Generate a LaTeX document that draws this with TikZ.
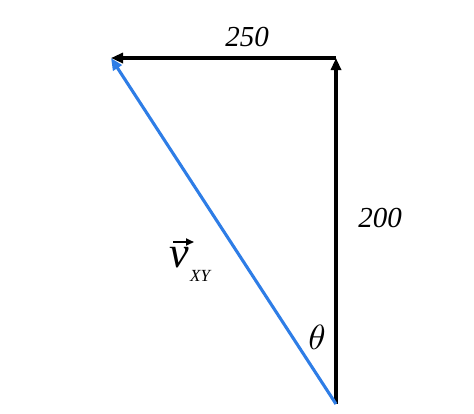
\documentclass[tikz,border=0pt]{standalone}
\usepackage{fontspec}
\newfontfamily\timesf{Liberation Serif}
\usetikzlibrary{arrows.meta}
\definecolor{vblue}{RGB}{46,125,230}
\tikzset{
  vec/.style={line width=3.1pt,-{Triangle[length=12pt,width=10pt]}},
  lbl/.style={font=\timesf\itshape\fontsize{29}{31}\selectfont, inner sep=0pt},
}
\begin{document}
\begin{tikzpicture}[x=1pt,y=-1pt]
\useasboundingbox (0,0) rectangle (474,413);
\coordinate (B) at (336,404);
\coordinate (TR) at (336,58);
\coordinate (TL) at (111,58);
\draw[vec,black] (B) -- (TR);
\draw[vec,black] (TR) -- (TL);
\draw[vec,vblue] (B) -- (TL);
\node[lbl] (l250) at (247,37) {250};
\node[lbl] (l200) at (380,218) {200};
\node[inner sep=0pt] (th) at (317,337) {\scalebox{3.5}{$\theta$}};
\node[inner sep=0pt,anchor=base west,font=\timesf\itshape\fontsize{44}{46}\selectfont] (v) at (169,267) {v};
\node[inner sep=0pt,anchor=base west,font=\timesf\itshape\fontsize{17}{19}\selectfont] (xy) at (190,281) {XY};
\coordinate (a1) at (173,242);
\coordinate (a2) at (194,242);
\draw[line width=1.8pt,-{Triangle[length=8pt,width=7pt]}] (a1) -- (a2);
\end{tikzpicture}
\end{document}
